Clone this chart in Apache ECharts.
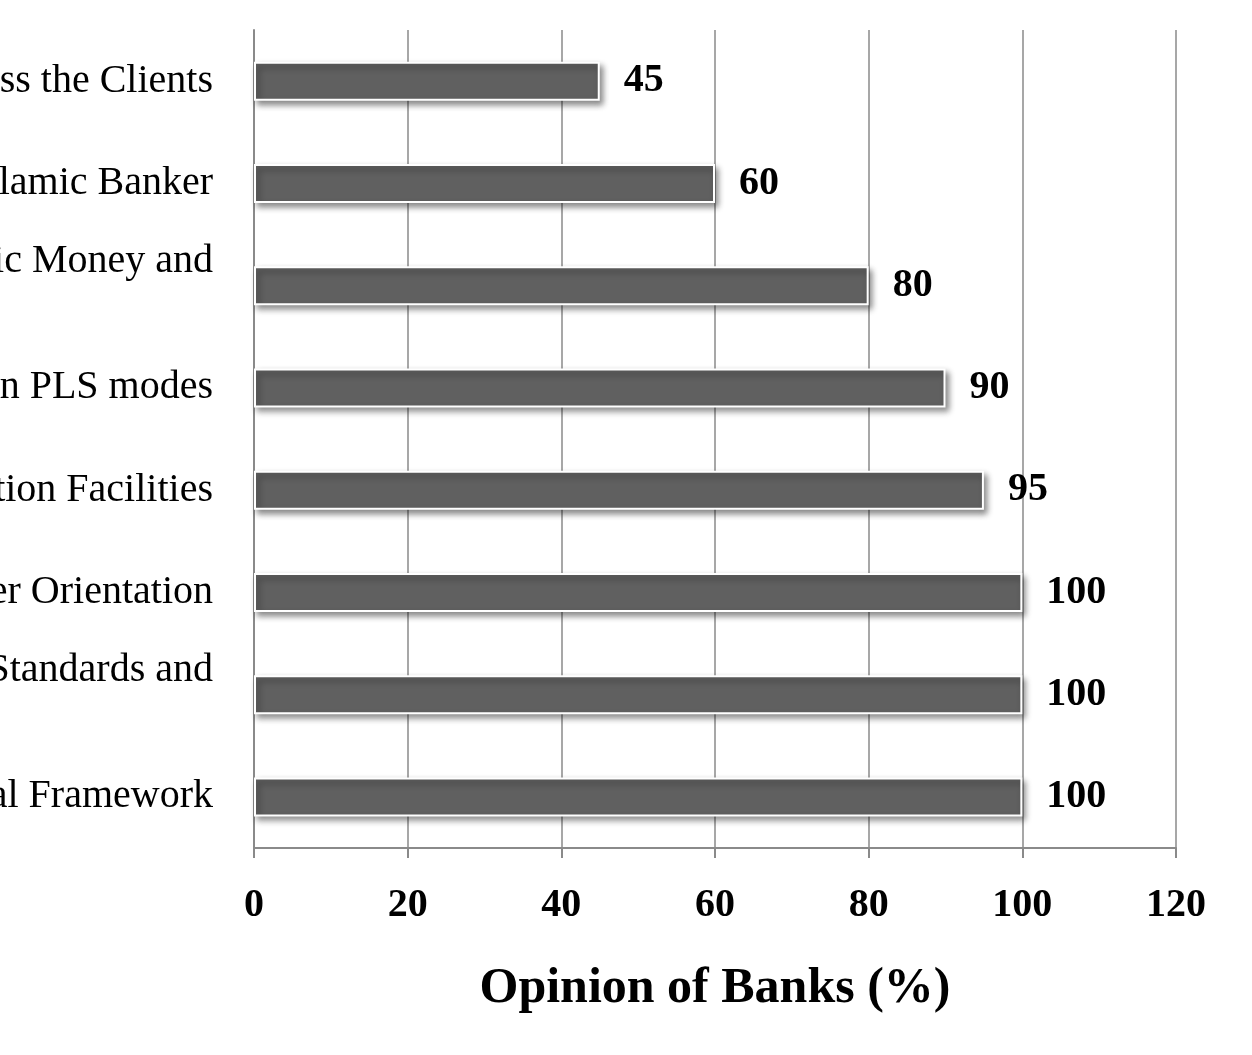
<!DOCTYPE html>
<html>
<head>
<meta charset="utf-8">
<script src="https://cdn.jsdelivr.net/npm/echarts@6/dist/echarts.min.js"></script>
<style>
  html, body { margin: 0; padding: 0; background: #fff; }
  #chart { width: 1252px; height: 1055px; }
</style>
</head>
<body>
<div id="chart"></div>
<script>
// categories top to bottom, second line (if any) after '\n'
const categories = [
  'Lack of Awareness across the Clients',
  'Shortage of Trained Islamic Banker',
  'Absence of Developed Islamic Money and\nCapital Market',
  'Less Interest in PLS modes',
  'Lack of Liquidity Absorption Facilities',
  'Lack of Customer Orientation',
  'Lack of Common Shariah Standards and\nPractices',
  'Absence of Islamic Legal Framework'
];
const opinionValues = [45, 60, 80, 90, 95, 100, 100, 100];
const xTicks = { min: 0, max: 120, interval: 20 };

const serif = "'Liberation Serif', 'Times New Roman', serif";
const chart = echarts.init(document.getElementById('chart'));

chart.setOption({
  backgroundColor: '#fff',
  animation: false,
  grid: { left: 254, right: 76, top: 30, bottom: 207, containLabel: false, outerBoundsMode: 'none' },
  xAxis: {
    type: 'value',
    min: xTicks.min,
    max: xTicks.max,
    interval: xTicks.interval,
    name: 'Opinion of Banks (%)',
    nameLocation: 'middle',
    nameGap: 116,
    nameTextStyle: { fontFamily: serif, fontSize: 50, fontWeight: 'bold', color: '#000', verticalAlign: 'top' },
    axisLine: { show: true, lineStyle: { color: '#8a8a8a', width: 2 } },
    axisTick: { show: true, length: 10, lineStyle: { color: '#8a8a8a', width: 2 } },
    axisLabel: { fontFamily: serif, fontSize: 40, fontWeight: 'bold', color: '#000', margin: 38 },
    splitLine: { show: true, lineStyle: { color: '#8a8a8a', width: 1.5 } }
  },
  yAxis: {
    type: 'category',
    inverse: true,
    data: categories,
    axisLine: { show: true, lineStyle: { color: '#8a8a8a', width: 2 } },
    axisTick: { show: false },
    axisLabel: {
      margin: 41,
      fontFamily: serif,
      fontSize: 40,
      color: '#000',
      lineHeight: 48,
      formatter: function (v) {
        return v.split('\n').map(function (s, i) { return (i === 0 ? '{a|' : '{b|') + s + '}'; }).join('\n');
      },
      rich: {
        a: { fontFamily: serif, fontSize: 40, color: '#000', lineHeight: 48, align: 'right' },
        b: { fontFamily: serif, fontSize: 40, color: '#000', lineHeight: 48, align: 'left' }
      }
    }
  },
  series: [{
    type: 'bar',
    data: opinionValues,
    barWidth: 39,
    itemStyle: {
      color: '#606060',
      borderColor: '#ffffff',
      borderWidth: 2,
      shadowBlur: 6,
      shadowColor: 'rgba(0,0,0,0.45)',
      shadowOffsetX: 3,
      shadowOffsetY: 4
    },
    label: {
      show: true,
      position: 'right',
      distance: 24,
      fontFamily: serif,
      fontSize: 40,
      fontWeight: 'bold',
      color: '#000'
    }
  }]
});
</script>
</body>
</html>
